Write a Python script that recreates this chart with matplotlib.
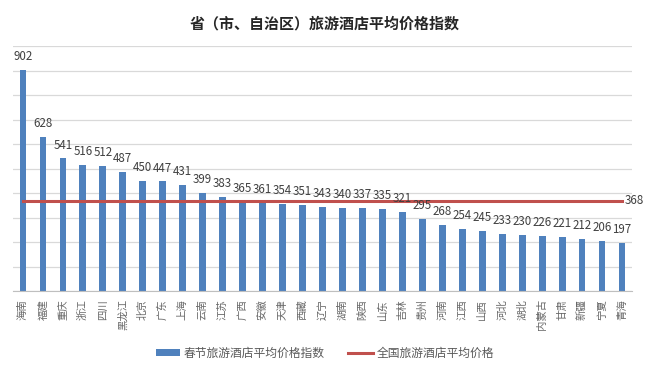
#!/usr/bin/env python3
"""Bar chart of hotel price index by province, with national average line."""

import matplotlib
matplotlib.use("Agg")
import matplotlib.pyplot as plt
import numpy as np

plt.rcParams['font.family'] = ['Noto Sans CJK SC', 'DejaVu Sans']

provinces = ["海南", "福建", "重庆", "浙江", "四川", "黑龙江", "北京", "广东",
             "上海", "云南", "江苏", "广西", "安徽", "天津", "西藏", "辽宁",
             "湖南", "陕西", "山东", "吉林", "贵州", "河南", "江西", "山西",
             "河北", "湖北", "内蒙古", "甘肃", "新疆", "宁夏", "青海"]
index_values = [902, 628, 541, 516, 512, 487, 450, 447, 431, 399, 383, 365,
                361, 354, 351, 343, 340, 337, 335, 321, 295, 268, 254, 245,
                233, 230, 226, 221, 212, 206, 197]
national_avg = 368

bar_name = "春节旅游酒店平均价格指数"
line_name = "全国旅游酒店平均价格"
title = "省（市、自治区）旅游酒店平均价格指数"


def main():
    fig = plt.figure(figsize=(6.46, 3.75), dpi=100)
    ax = fig.add_axes([13/646, 1 - 291/375, 619/646, 245/375])

    x = np.arange(len(provinces))
    bars = ax.bar(x, index_values, width=0.34, color="#4F81BD", zorder=2,
                  label=bar_name)
    line, = ax.plot(x, [national_avg]*len(x), color="#C0504D", lw=2.2,
                    zorder=3, label=line_name)

    for xi, v in zip(x, index_values):
        ax.annotate(str(v), (xi, v), xytext=(0, 5), textcoords="offset points",
                    ha="center", va="bottom", fontsize=8.3, color="#404040")
    ax.annotate(str(national_avg), (x[-1], national_avg), xytext=(2, 0),
                textcoords="offset points", ha="left", va="center",
                fontsize=8.3, color="#404040")

    ax.set_xlim(-0.5, len(x) - 0.5)
    ax.set_ylim(0, 1000)
    ax.set_yticks(np.arange(0, 1001, 100))
    ax.yaxis.grid(True, color="#D9D9D9", lw=0.9, zorder=0)
    ax.tick_params(axis="y", length=0, labelleft=False)
    ax.set_xticks(x)
    ax.set_xticklabels(provinces, rotation=90, fontsize=7.5, color="#666666",
                       va="top", ha="center")
    ax.tick_params(axis="x", length=0, pad=6)
    for s in ("top", "left", "right"):
        ax.spines[s].set_visible(False)
    ax.spines["bottom"].set_color("#BFBFBF")

    fig.text(0.503, 1 - 23/375, title, ha="center", va="center",
             fontsize=10.8, fontweight="bold", color="#262626")

    fig.legend(handles=[bars, line], labels=[bar_name, line_name],
               loc="center", bbox_to_anchor=(0.503, 1 - 353/375), ncol=2,
               frameon=False, fontsize=8.5, handlelength=2.1,
               handleheight=0.5, columnspacing=2.0, handletextpad=0.3,
               labelcolor="#595959")

    fig.savefig("out.png", dpi=100)


if __name__ == "__main__":
    main()
